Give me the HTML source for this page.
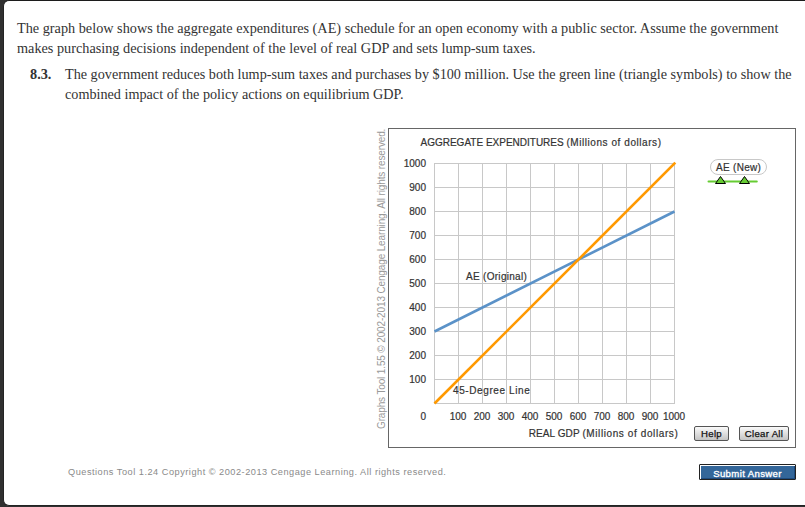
<!DOCTYPE html>
<html>
<head>
<meta charset="utf-8">
<style>
html,body{margin:0;padding:0;}
body{width:805px;height:507px;overflow:hidden;background:#303030;position:relative;}
#topbar{position:absolute;left:0;top:0;width:805px;height:1px;background:#1c1c1c;}
#panel{position:absolute;left:3px;top:0px;width:812px;height:504px;background:#fff;border:1px solid #232323;border-top-color:#1c1c1c;border-radius:6px;}
.serif{font-family:"Liberation Serif",serif;font-size:14.25px;line-height:19.7px;color:#333;position:absolute;white-space:nowrap;}
.sans{font-family:"Liberation Sans",sans-serif;position:absolute;white-space:nowrap;}
#p1{left:17px;top:19px;}
#num{left:30px;top:65px;font-weight:bold;}
#p2{left:65px;top:65px;font-size:14.2px;}
#box{position:absolute;left:388px;top:128px;width:406px;height:318px;border:1px solid #666;}
.gl{position:absolute;font-family:"Liberation Sans",sans-serif;font-size:10px;color:#333;-webkit-text-stroke:0.2px #333;white-space:nowrap;line-height:10px;}
.yl{text-align:right;width:40px;left:386px;}
.xl{text-align:center;width:40px;}
#rot{position:absolute;left:376.5px;top:429px;transform-origin:0 0;transform:rotate(-90deg);font-family:"Liberation Sans",sans-serif;font-size:10px;letter-spacing:-0.14px;color:#999;white-space:nowrap;line-height:10px;}
.btn{position:absolute;top:426px;height:13px;border:1px solid #555;border-radius:2px;background:linear-gradient(#fafafa,#c4c4c4);font-family:"Liberation Sans",sans-serif;font-size:9.6px;letter-spacing:0.3px;-webkit-text-stroke:0.25px #111;color:#111;text-align:center;line-height:13px;}
#copy{position:absolute;left:68px;top:466px;font-family:"Liberation Sans",sans-serif;font-size:9.2px;letter-spacing:0.51px;color:#8a8a8a;white-space:nowrap;line-height:12px;}
#submit{position:absolute;left:699px;top:464px;width:95px;height:14px;border:1px solid #222;border-radius:1px;background:#336699;box-shadow:inset 1px 1px 0 #fff,inset -1px -1px 0 #1d4a7d;font-family:"Liberation Sans",sans-serif;font-size:9.6px;letter-spacing:0.36px;-webkit-text-stroke:0.35px #fff;color:#fff;text-align:center;line-height:17px;}
</style>
</head>
<body>
<div id="panel"></div>
<div class="serif" id="p1">The graph below shows the aggregate expenditures (AE) schedule for an open economy with a public sector. Assume the government<br>makes purchasing decisions independent of the level of real GDP and sets lump-sum taxes.</div>
<div class="serif" id="num">8.3.</div>
<div class="serif" id="p2">The government reduces both lump-sum taxes and purchases by $100 million. Use the green line (triangle symbols) to show the<br>combined impact of the policy actions on equilibrium GDP.</div>

<div id="box"></div>
<div id="rot">Graphs Tool 1.55 © 2002-2013 Cengage Learning. All rights reserved.</div>

<svg style="position:absolute;left:0;top:0" width="805" height="507" viewBox="0 0 805 507">
<g stroke="#c8c8c8" stroke-width="1" shape-rendering="crispEdges">
<path d="M434.5 163V404M458.5 163V404M482.5 163V404M506.5 163V404M530.5 163V404M554.5 163V404M578.5 163V404M602.5 163V404M626.5 163V404M650.5 163V404M674.5 163V404"/>
<path d="M434 163.5H675M434 187.5H675M434 211.5H675M434 235.5H675M434 259.5H675M434 283.5H675M434 307.5H675M434 331.5H675M434 355.5H675M434 379.5H675M434 403.5H675"/>
</g>
<line x1="434.5" y1="331.5" x2="674.5" y2="211.5" stroke="#5b92c8" stroke-width="2.6"/>
<line x1="434.5" y1="403.5" x2="675.3" y2="162.7" stroke="#ff9900" stroke-width="2.6"/>
<rect x="710.5" y="159.5" width="56" height="15" rx="7.5" fill="#fff" stroke="#c8c8c8"/>
<line x1="708.5" y1="181.5" x2="756.8" y2="181.5" stroke="#66cc33" stroke-width="2" stroke-linecap="round"/>
<path d="M720.5 176.5L725.5 183.5H715.5Z" fill="#66cc33" stroke="#000" stroke-width="1"/>
<path d="M744.5 176.5L749.5 183.5H739.5Z" fill="#66cc33" stroke="#000" stroke-width="1"/>
</svg>

<div class="gl" style="left:420.5px;top:138px;">AGGREGATE EXPENDITURES <span style="letter-spacing:0.56px">(Millions of dollars)</span></div>
<div class="gl yl" style="top:159px">1000</div>
<div class="gl yl" style="top:183px">900</div>
<div class="gl yl" style="top:207px">800</div>
<div class="gl yl" style="top:231px">700</div>
<div class="gl yl" style="top:255px">600</div>
<div class="gl yl" style="top:279px">500</div>
<div class="gl yl" style="top:303px">400</div>
<div class="gl yl" style="top:327px">300</div>
<div class="gl yl" style="top:351px">200</div>
<div class="gl yl" style="top:375px">100</div>
<div class="gl yl" style="top:412px">0</div>
<div class="gl xl" style="left:438px;top:412px">100</div>
<div class="gl xl" style="left:462px;top:412px">200</div>
<div class="gl xl" style="left:486px;top:412px">300</div>
<div class="gl xl" style="left:510px;top:412px">400</div>
<div class="gl xl" style="left:534px;top:412px">500</div>
<div class="gl xl" style="left:558px;top:412px">600</div>
<div class="gl xl" style="left:582px;top:412px">700</div>
<div class="gl xl" style="left:606px;top:412px">800</div>
<div class="gl xl" style="left:630px;top:412px">900</div>
<div class="gl xl" style="left:654px;top:412px">1000</div>
<div class="gl" style="left:528.7px;top:429px;letter-spacing:0.1px;">REAL GDP <span style="letter-spacing:0.6px">(Millions of dollars)</span></div>
<div class="gl" style="left:453px;top:385.5px;letter-spacing:0.6px;">45-Degree Line</div>
<div class="gl" style="left:466px;top:271.5px;letter-spacing:0.3px;">AE (Original)</div>
<div class="gl" style="left:716px;top:163px;letter-spacing:0.3px;">AE (New)</div>

<div class="btn" style="left:694px;width:33px;">Help</div>
<div class="btn" style="left:739px;width:48px;">Clear All</div>

<div id="copy">Questions Tool 1.24 Copyright © 2002-2013 Cengage Learning. All rights reserved.</div>
<div id="submit">Submit Answer</div>
</body>
</html>
